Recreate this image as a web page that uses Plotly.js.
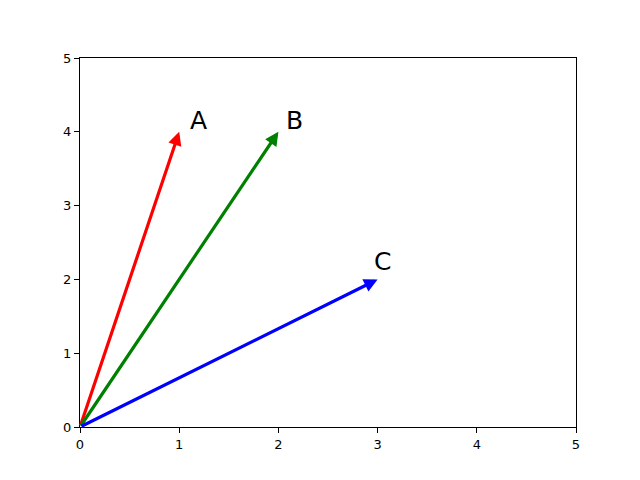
<!DOCTYPE html>
<html>
<head>
<meta charset="utf-8">
<script src="https://cdn.plot.ly/plotly-3.0.1.min.js"></script>
<style>
  body { margin: 0; }
  #plot { width: 640px; height: 480px; }
</style>
</head>
<body>
<div id="plot"></div>
<script>
  // vectors drawn from the origin
  var names = ["A", "B", "C"];
  var vecX = [1, 2, 3];
  var vecY = [4, 4, 2];
  var colors = ["red", "green", "blue"];
  // where each label sits
  var labelX = [1.09, 2.06, 2.94];
  var labelY = [3.93, 3.93, 2.02];

  var annotations = [];
  for (var i = 0; i < names.length; i++) {
    annotations.push({
      x: vecX[i], y: vecY[i], xref: "x", yref: "y",
      ax: 0, ay: 0, axref: "x", ayref: "y",
      text: "", showarrow: true,
      arrowhead: 2, arrowsize: 0.85, arrowwidth: 3.2,
      arrowcolor: colors[i], standoff: 0
    });
    annotations.push({
      x: labelX[i], y: labelY[i], xref: "x", yref: "y",
      text: names[i], showarrow: false,
      xanchor: "left", yanchor: "bottom",
      font: {family: "DejaVu Sans", size: 25, color: "black"}
    });
  }

  var data = [{
    x: [0], y: [0],
    mode: "markers",
    type: "scatter",
    marker: {opacity: 0},
    hoverinfo: "skip"
  }];

  var axis = {
    range: [0, 5],
    dtick: 1,
    showgrid: false,
    zeroline: false,
    showline: true,
    linecolor: "black",
    linewidth: 1,
    mirror: true,
    ticks: "outside",
    ticklen: 5,
    tickcolor: "black",
    tickfont: {family: "DejaVu Sans", size: 13, color: "black"}
  };

  var layout = {
    width: 640,
    height: 480,
    margin: {t: 58, r: 64, b: 53, l: 80},
    showlegend: false,
    plot_bgcolor: "white",
    paper_bgcolor: "white",
    xaxis: Object.assign({}, axis),
    yaxis: Object.assign({}, axis),
    annotations: annotations
  };

  Plotly.newPlot("plot", data, layout, {staticPlot: true});
</script>
</body>
</html>
